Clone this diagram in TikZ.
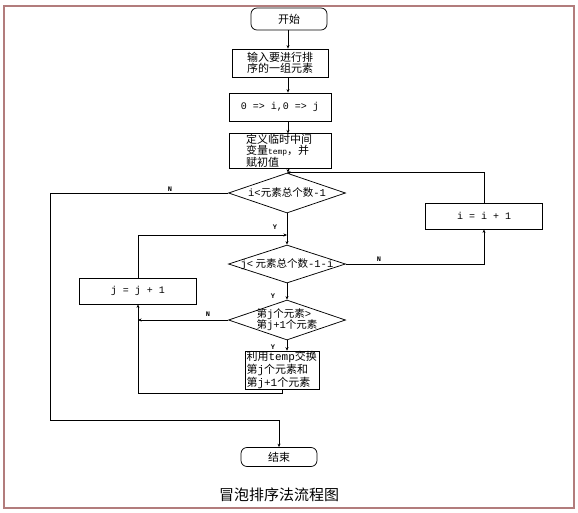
\documentclass[tikz,border=0pt]{standalone}
\usepackage{fontspec}
\setmonofont{Liberation Mono}
\newfontfamily\cjk{Noto Sans CJK SC}
\usepackage{tikz}
\usetikzlibrary{positioning, arrows.meta, shapes.geometric}
\definecolor{framecol}{RGB}{178,124,124}

\begin{document}
\begin{tikzpicture}[
    x=1pt, y=-1pt,
    >={Stealth[length=3.5pt,width=3pt]},
    line width=0.75pt,
    termbox/.style={rectangle, draw, rounded corners=6pt, minimum width=76pt, minimum height=22pt, font=\cjk\fontsize{11}{12}\selectfont},
    procbox/.style={rectangle, draw, inner sep=2pt, font=\cjk\fontsize{11}{11.5}\selectfont, align=center},
    decbox/.style={diamond, draw, inner sep=0pt, minimum width=117pt, minimum height=40pt, font=\cjk\fontsize{10.5}{10}\selectfont},
    ynlabel/.style={font=\ttfamily\bfseries\fontsize{7}{8}\selectfont, inner sep=1pt},
]
\useasboundingbox (0,0) rectangle (578,512);

% Frame
\draw[framecol, line width=1.3pt] (4,6) rectangle (574,508);

% Main column
\node[termbox] (start) at (289,19) {开始};
\node[procbox, minimum width=96pt, minimum height=28pt] (b1) at (280,63) {输入要进行排\\序的一组元素};
\node[procbox, minimum width=102pt, minimum height=28pt, font=\ttfamily\fontsize{10}{11}\selectfont] (b2) at (280,107) {0 => i,0 => j};
\node[procbox, minimum width=102pt, minimum height=31pt, align=left, text width=68pt, inner sep=0.5pt, font=\cjk\fontsize{11}{10}\selectfont] (b3) at (280,151) {定义临时中间\\变量\texttt{\fontsize{8}{9}\selectfont temp}，并\\赋初值};

% Decisions
\node[decbox] (d1) at (287,193) {\makebox[0pt]{\texttt{i<}元素总个数\texttt{-1}}};
\node[decbox, minimum height=38pt] (d2) at (287,264) {\makebox[0pt]{\texttt{j<} 元素总个数\texttt{-1-i}}};
\node[decbox] (d3) at (287,320) {\makebox[0pt]{\begin{tabular}{@{}l@{}}第\texttt{j}个元素\texttt{>}\\第\texttt{j+1}个元素\end{tabular}}};
\node[procbox, minimum width=74pt, minimum height=30pt, align=left, text width=71pt, inner sep=0.5pt, font=\cjk\fontsize{11}{10}\selectfont] (swap) at (282,370) {利用\texttt{temp}交换\\第\texttt{j}个元素和\\第\texttt{j+1}个元素};

% Counters
\node[procbox, minimum width=117pt, minimum height=26pt, font=\ttfamily\fontsize{10}{11}\selectfont] (iinc) at (484,216) {i = i + 1};
\node[procbox, minimum width=117pt, minimum height=26pt, font=\ttfamily\fontsize{10}{11}\selectfont] (jinc) at (138,291) {j = j + 1};

% End and caption
\node[termbox, minimum height=19pt] (stop) at (279,457) {结束};
\node[font=\cjk\fontsize{15}{17}\selectfont] (cap) at (279,495) {冒泡排序法流程图};

% Branch labels
\node[ynlabel] (n1) at (170,189) {N};
\node[ynlabel] (y1) at (275,227) {Y};
\node[ynlabel] (n2) at (379,259) {N};
\node[ynlabel] (y2) at (273,296) {Y};
\node[ynlabel] (n3) at (208,314) {N};
\node[ynlabel] (y3) at (273,347) {Y};

% Bend points
\coordinate (spine) at (288,0);
\coordinate (j2) at (287,235);
\coordinate (lb) at (50,420);

% Arrows
\foreach \a/\b in {start/b1, b1/b2, b2/b3, b3/d1} {
    \draw[->] (spine |- \a.south) -- (spine |- \b.north);
}
\draw[->] (d1.south) -- (d2.north);
\draw[->] (d2.south) -- (d3.north);
\draw[->] (d3.south) -- (d3.south |- swap.north);
\draw[->] (swap.south) -- ++(0,4) -| (jinc.south);
\draw[->] (d3.west) -- (d3.west -| jinc.south);
\draw[->] (jinc.north) |- (j2);
\draw[->] (d2.east) -| (iinc.south);
\draw[->] (iinc.north) |- (d1.north);
\draw[->] (d1.west) -| (lb) -| (stop.north);

\end{tikzpicture}
\end{document}
